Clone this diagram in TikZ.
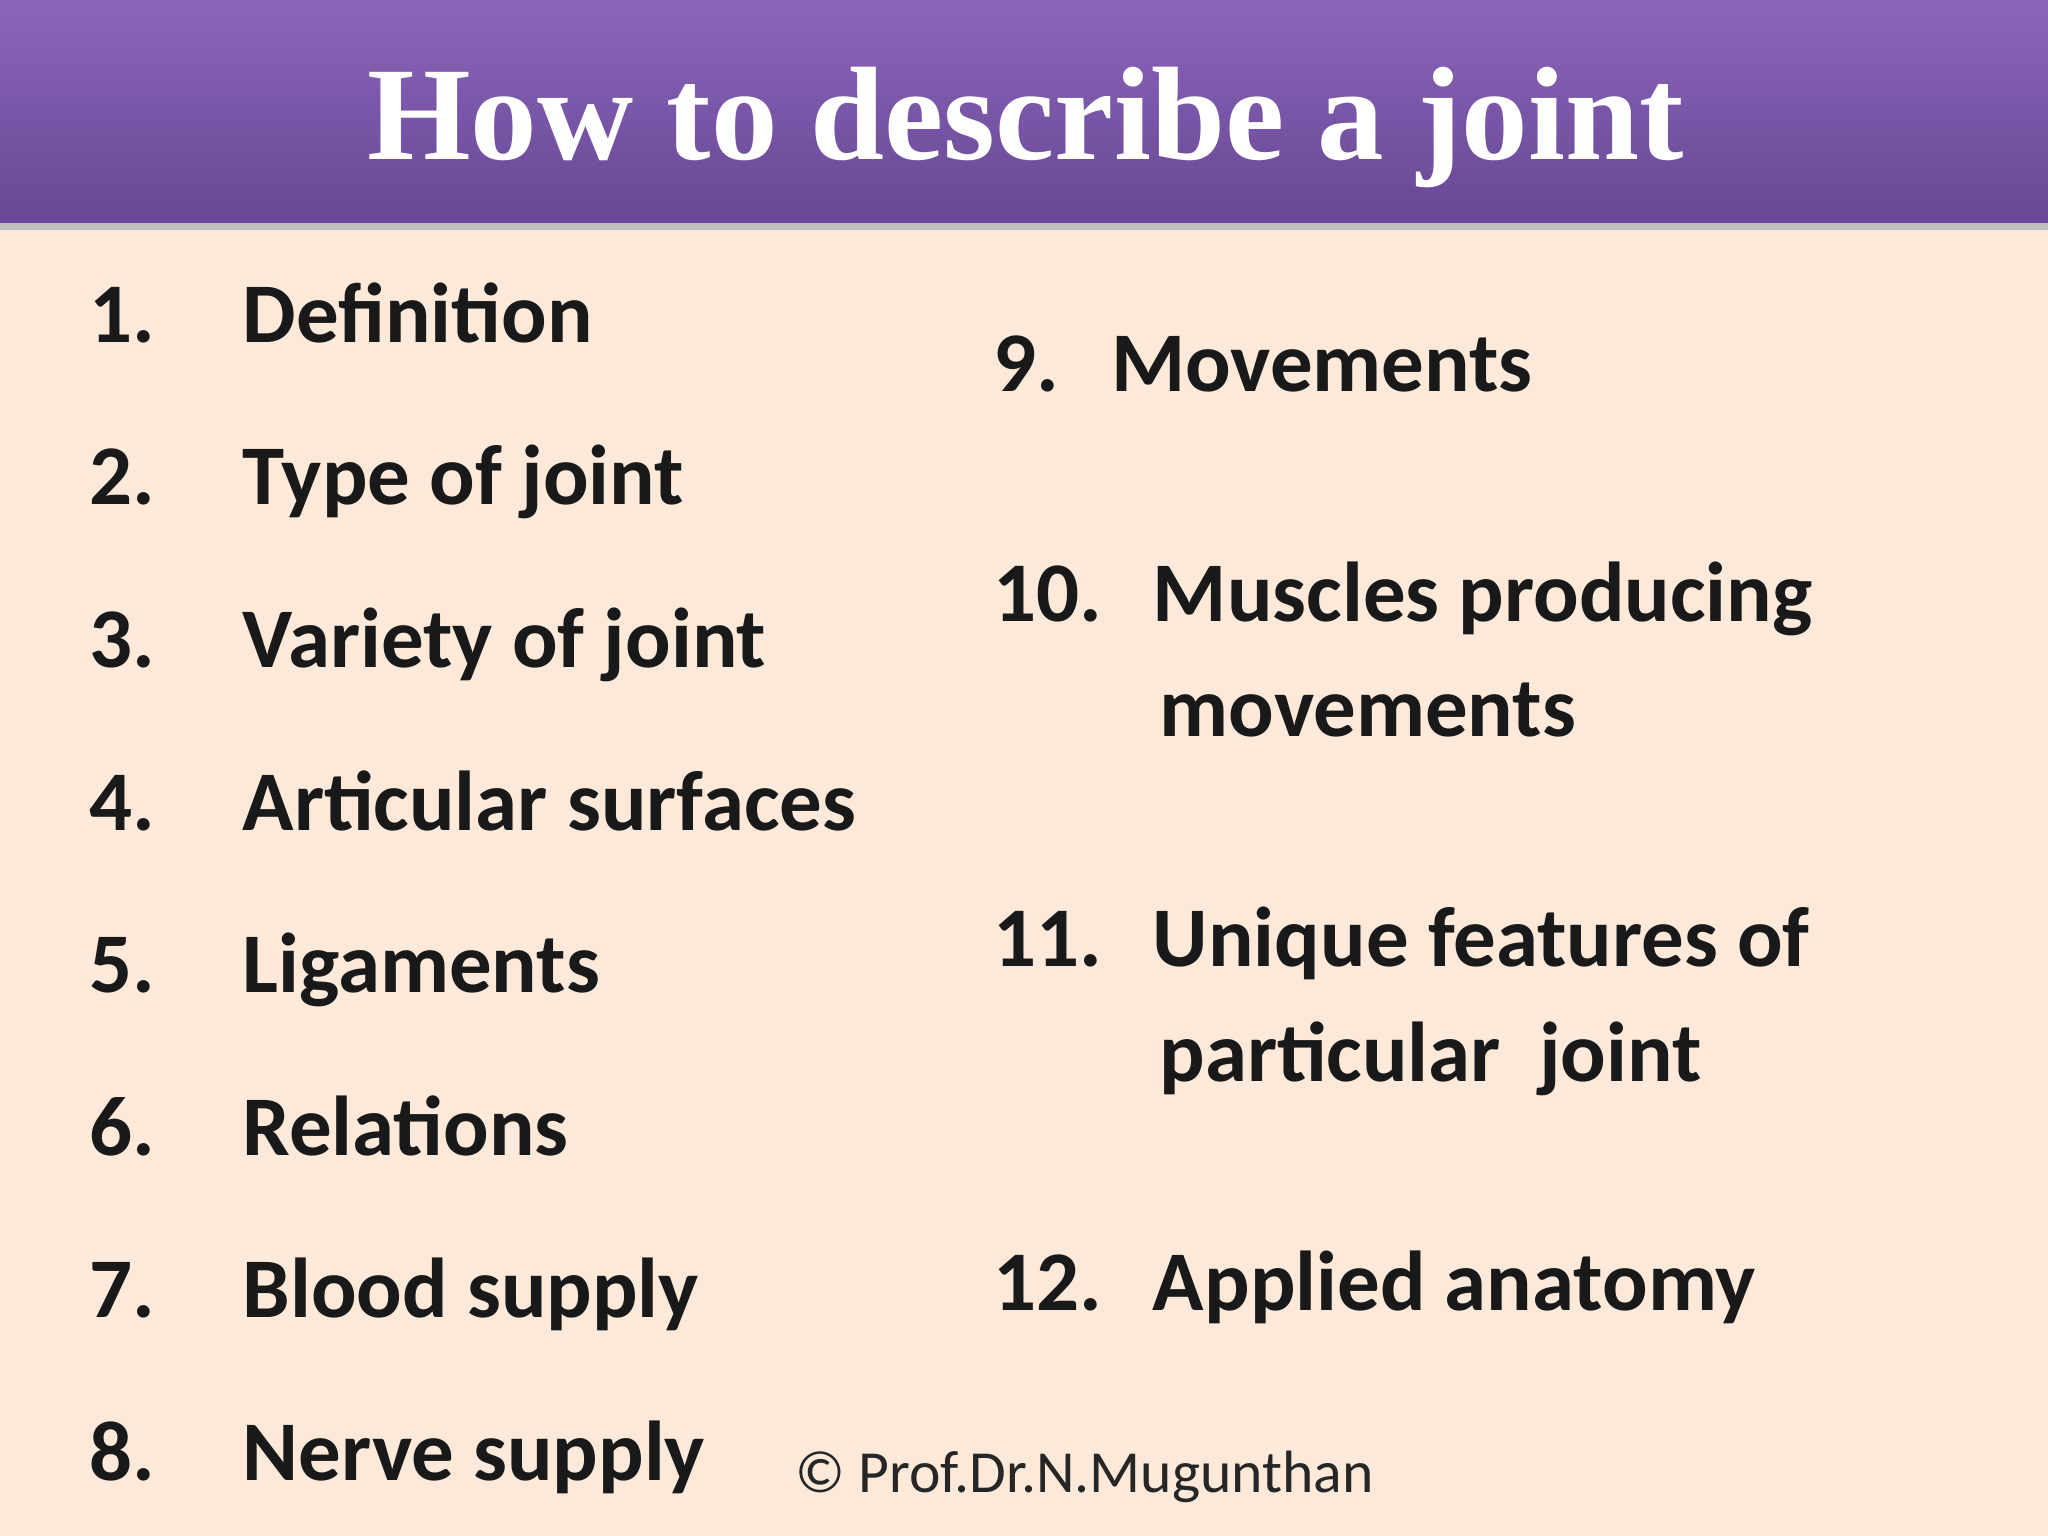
\documentclass[tikz,border=0pt]{standalone}
\usepackage{fontspec}
\setmainfont{Carlito}
\newfontfamily\titlefont{Liberation Serif}
\definecolor{bg}{HTML}{FCE9D9}
\definecolor{ptop}{HTML}{8A66B8}
\definecolor{pbot}{HTML}{684796}
\begin{document}
\begin{tikzpicture}[x=1cm,y=1cm,
  item/.style={anchor=base west,inner sep=0pt,font=\fontsize{18.5pt}{22pt}\selectfont\bfseries,text=black!90}]
\useasboundingbox (0,0) rectangle (15.68,-11.76);
\fill[bg] (0,0) rectangle (15.68,-11.76);
\fill[black!25] (0,-1.70) rectangle (15.68,-1.76);
\shade[top color=ptop,bottom color=pbot] (0,0) rectangle (15.68,-1.70);
\node[anchor=base,inner sep=0pt,text=white,font=\titlefont\fontsize{29pt}{34pt}\selectfont\bfseries] (title) at (7.85,-1.22) {How to describe a joint};
\foreach \n/\t/\y in {1/Definition/2.62,2/Type of joint/3.865,3/Variety of joint/5.11,4/Articular surfaces/6.355,5/Ligaments/7.60,6/Relations/8.845,7/Blood supply/10.09,8/Nerve supply/11.335}{
  \node[item] (n\n) at (0.68,-\y) {\n.};
  \node[item] (t\n) at (1.85,-\y) {\t};
}
\node[item] (n9) at (7.60,-3.00) {9.};
\node[item] (t9) at (8.50,-3.00) {Movements};
\node[item] (n10) at (7.60,-4.76) {10.};
\node[item] (t10) at (8.82,-4.76) {Muscles producing};
\node[item] (t10b) at (8.87,-5.64) {movements};
\node[item] (n11) at (7.60,-7.40) {11.};
\node[item] (t11) at (8.82,-7.40) {Unique features of};
\node[item] (t11b) at (8.87,-8.28) {particular\ \ joint};
\node[item] (n12) at (7.60,-10.03) {12.};
\node[item] (t12) at (8.82,-10.03) {Applied anatomy};
\node[anchor=base west,inner sep=0pt,text=black!85,font=\fontsize{13pt}{15pt}\selectfont] (copy) at (6.08,-11.43) {© Prof.Dr.N.Mugunthan};
\end{tikzpicture}
\end{document}
